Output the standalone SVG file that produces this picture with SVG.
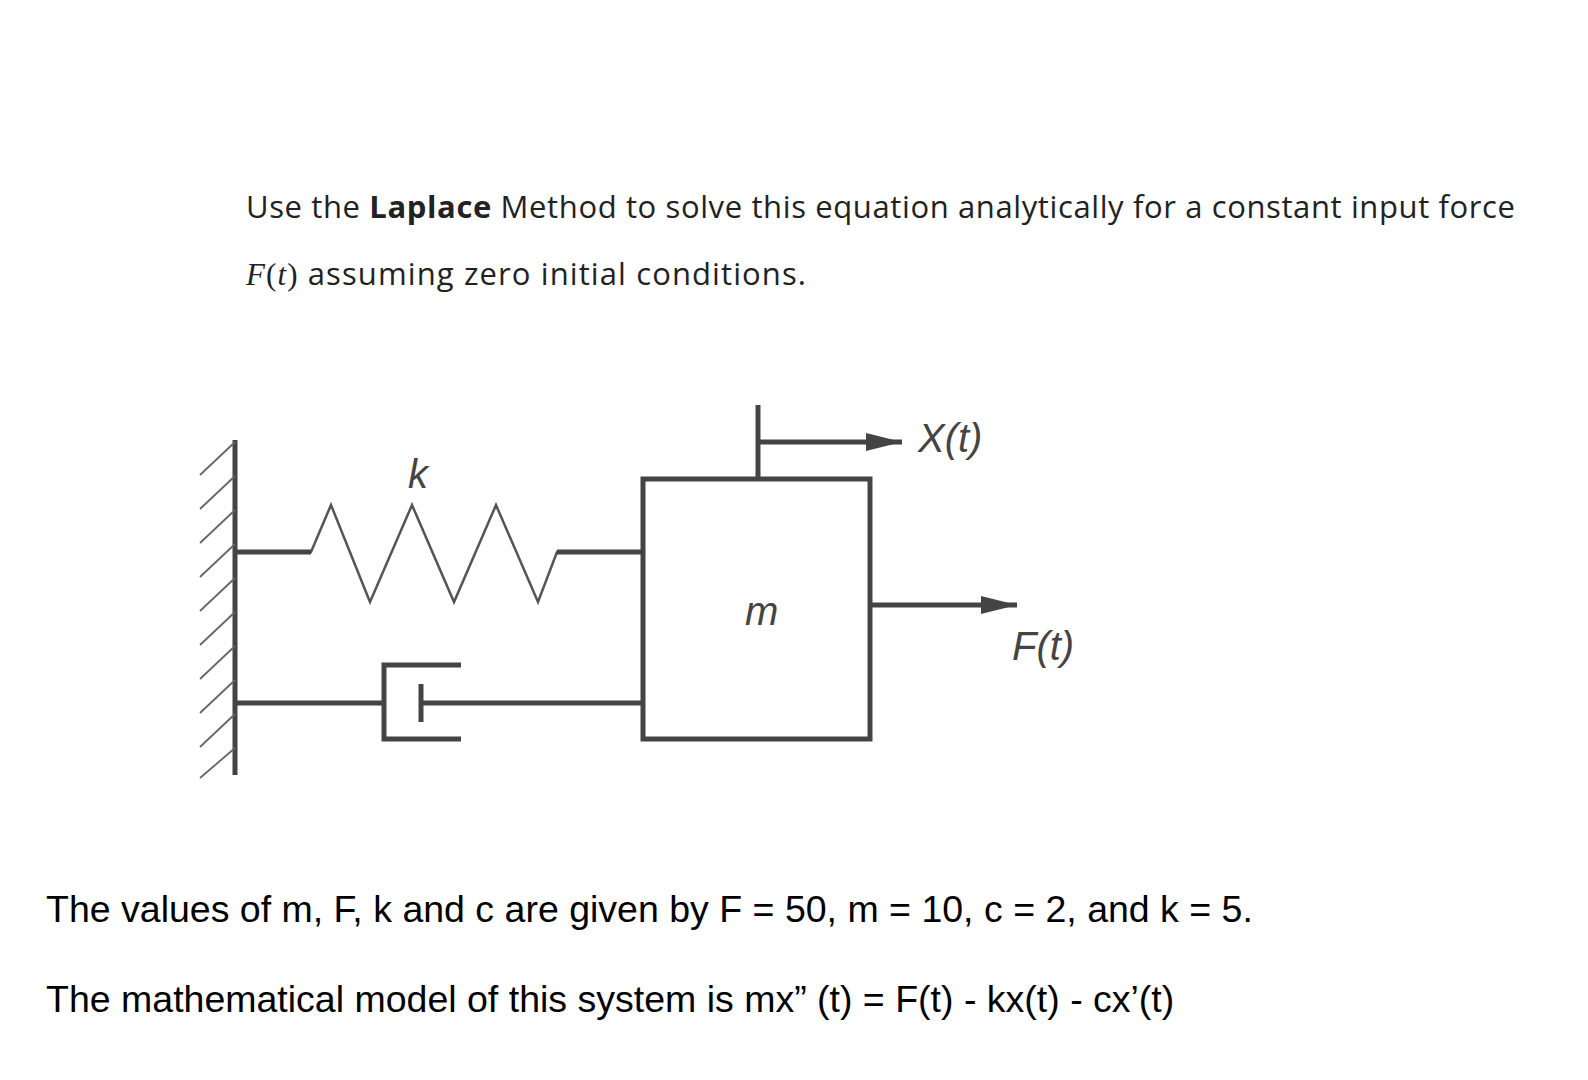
<svg xmlns="http://www.w3.org/2000/svg" width="1588" height="1080" viewBox="0 0 1588 1080">
<style>
.h{font-family:"Open Sans","Noto Sans",sans-serif;font-size:31px;fill:#222}
.b{font-family:"Liberation Sans",Arial,sans-serif;font-size:37.5px;fill:#000}
.l{font-family:"Liberation Sans",Arial,sans-serif;font-style:italic;font-size:40px;fill:#444}
.s{fill:none;stroke:#444;stroke-width:5}
.t{fill:none;stroke:#555;stroke-width:2.5}
.hat{stroke:#666;stroke-width:1.8}
</style>
<defs><marker id="ar" markerWidth="36" markerHeight="18" refX="36" refY="9" orient="auto" markerUnits="userSpaceOnUse" viewBox="0 0 36 18"><path d="M0,0 L36,9 L0,18z" fill="#444"/></marker></defs>
<rect width="1588" height="1080" fill="#fff"/>
<text class="h" x="246" y="218" textLength="1269">Use the <tspan font-weight="bold">Laplace</tspan> Method to solve this equation analytically for a constant input force</text>
<text class="h" x="246" y="285" textLength="560"><tspan font-family="'Liberation Serif',serif" font-style="italic">F</tspan><tspan font-family="'Liberation Serif',serif">(</tspan><tspan font-family="'Liberation Serif',serif" font-style="italic">t</tspan><tspan font-family="'Liberation Serif',serif">)</tspan> assuming zero initial conditions.</text>
<g id="wall">
<line class="s" x1="235" y1="440" x2="235" y2="775" stroke-width="3"/>
<g class="hat">
<line x1="200" y1="475" x2="235" y2="442"/><line x1="200" y1="509" x2="235" y2="476"/><line x1="200" y1="543" x2="235" y2="510"/><line x1="200" y1="577" x2="235" y2="544"/><line x1="200" y1="611" x2="235" y2="578"/><line x1="200" y1="645" x2="235" y2="612"/><line x1="200" y1="679" x2="235" y2="646"/><line x1="200" y1="713" x2="235" y2="680"/><line x1="200" y1="747" x2="235" y2="714"/><line x1="200" y1="778" x2="235" y2="748"/>
</g></g>
<g id="spring">
<polyline class="t" points="235,552 311,552 331,505 370,602 412,505 454,602 496,505 538,602 557,552 643,552"/>
<line class="s" x1="235" y1="552" x2="311" y2="552"/><line class="s" x1="557" y1="552" x2="643" y2="552"/>
<text class="l" x="408" y="488" font-size="38">k</text>
</g>
<g id="damper">
<line class="s" x1="235" y1="703" x2="384" y2="703"/>
<polyline class="s" points="461,665 384,665 384,739 461,739"/>
<line class="s" x1="421" y1="684" x2="421" y2="722"/>
<line class="s" x1="421" y1="703" x2="643" y2="703"/>
</g>
<g id="mass">
<rect class="s" x="643" y="479" width="227" height="260"/>
<text class="l" x="745" y="625" font-size="38">m</text>
</g>
<g id="connectors">
<line class="s" x1="758" y1="405" x2="758" y2="479"/>
<line class="s" x1="758" y1="442" x2="902" y2="442" marker-end="url(#ar)" stroke-width="4"/>
<line class="s" x1="870" y1="605" x2="1017" y2="605" marker-end="url(#ar)" stroke-width="4"/>
</g>
<text class="l" x="918" y="452">X(t)</text>
<text class="l" x="1012" y="660">F(t)</text>
<text class="b" x="46" y="922">The values of m, F, k and c are given by F = 50, m = 10, c = 2, and k = 5.</text>
<text class="b" x="46" y="1012">The mathematical model of this system is mx” (t) = F(t) - kx(t) - cx’(t)</text>
</svg>
